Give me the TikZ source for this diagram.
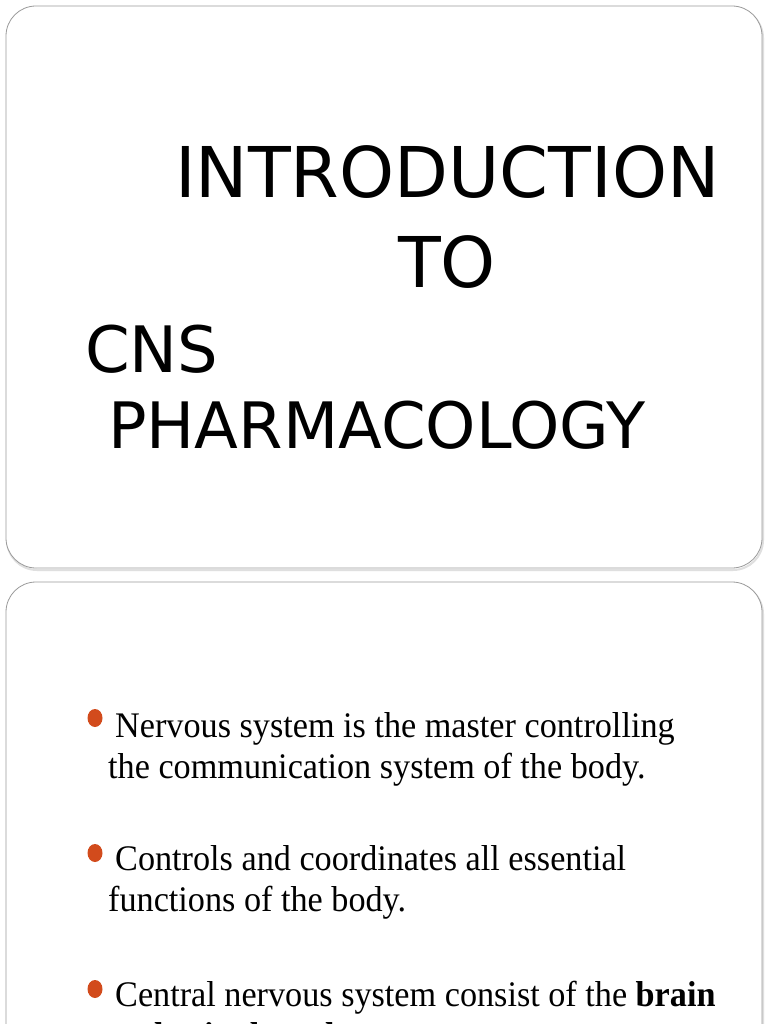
\documentclass[tikz,border=0pt]{standalone}
\usepackage{fontspec}
\setmainfont{Liberation Serif}
\newfontfamily\titlefont{DejaVu Sans}
\newfontfamily\bodyfont[FakeStretch=0.95]{Liberation Serif}
\definecolor{bul}{HTML}{D24B1C}
\definecolor{frame}{HTML}{9A9A9A}
\tikzset{slide/.style={draw=frame,line width=0.8pt,rounded corners=30pt,fill=white},
  ttl/.style={anchor=base west,inner sep=0,font=\titlefont\fontsize{70}{70}\selectfont},
  ttlb/.style={anchor=base west,inner sep=0,font=\titlefont\fontsize{64}{64}\selectfont},
  body/.style={anchor=base west,inner sep=0,font=\bodyfont\fontsize{36}{36}\selectfont},
  dot/.style={fill=bul,draw=none,ellipse,minimum width=15pt,minimum height=18pt,inner sep=0}}
\usetikzlibrary{shapes.geometric}
\begin{document}
\begin{tikzpicture}[x=1pt,y=-1pt]
\useasboundingbox (0,0) rectangle (768,1024);
\clip (0,0) rectangle (768,1024);
\fill[white] (0,0) rectangle (768,1024);
\draw[gray!25,line width=2pt,rounded corners=30pt] (7,8) rectangle (763,570);
\draw[slide] (6,6) rectangle (762,568);
\draw[gray!25,line width=2pt,rounded corners=30pt] (7,584) rectangle (763,1100);
\draw[slide] (6,582) rectangle (762,1100);
\node[ttl] (t1) at (175,198) {INTRODUCTION};
\node[ttl] (t2) at (398,287) {TO};
\node[ttlb] (t3) at (85,372) {CNS};
\node[ttlb] (t4) at (108,448) {PHARMACOLOGY};
\node[dot] (d1) at (95,718) {};
\node[body] (b1) at (115,737) {Nervous system is the master controlling};
\node[body] (b2) at (108,778) {the communication system of the body.};
\node[dot] (d2) at (95,853) {};
\node[body] (b3) at (115,870) {Controls and coordinates all essential};
\node[body] (b4) at (108,911) {functions of the body.};
\node[dot] (d3) at (95,989) {};
\node[body] (b5) at (115,1006) {Central nervous system consist of the \textbf{brain}};
\node[body] (b6) at (108,1047) {\textbf{and spinal cord.}};
\end{tikzpicture}
\end{document}
